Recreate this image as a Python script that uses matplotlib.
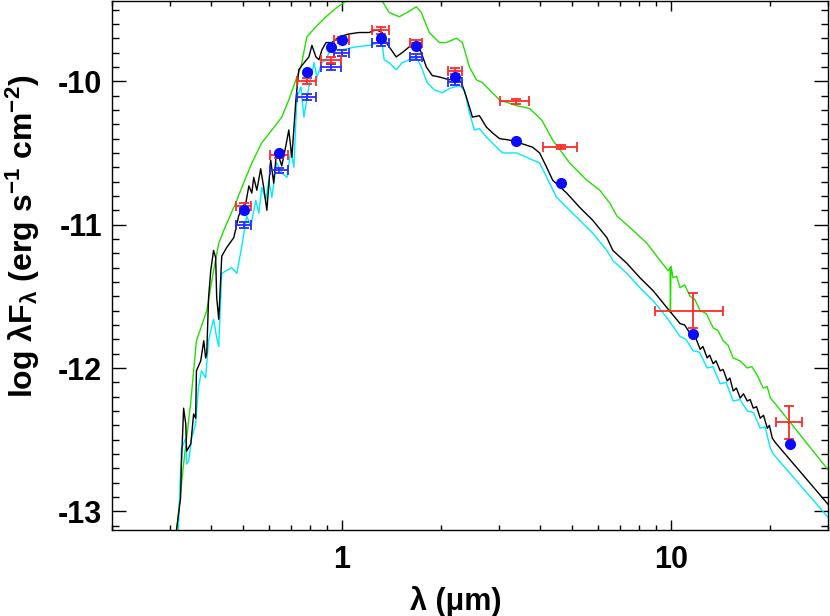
import numpy as np
import matplotlib
matplotlib.use('Agg')
import matplotlib.pyplot as plt
from matplotlib.ticker import FixedLocator, NullFormatter, FixedFormatter, MultipleLocator

plt.rcParams['font.family'] = ['Liberation Sans', 'DejaVu Sans']
plt.rcParams['font.weight'] = 'bold'
plt.rcParams['mathtext.fontset'] = 'custom'
plt.rcParams['mathtext.rm'] = 'Liberation Sans:bold'
plt.rcParams['mathtext.bf'] = 'Liberation Sans:bold'
plt.rcParams['mathtext.it'] = 'Liberation Sans:bold'
plt.rcParams['mathtext.default'] = 'bf'

# model spectra (wavelength in micron, log lambda F_lambda)
green_model = [
    (0.305, -13.40), (0.314, -13.14), (0.330, -12.67), (0.3465, -12.25), (0.361, -11.81),
    (0.388, -11.60), (0.407, -11.32), (0.422, -11.13), (0.437, -11.04), (0.475, -10.85),
    (0.496, -10.74), (0.532, -10.57), (0.570, -10.43), (0.612, -10.34), (0.656, -10.25),
    (0.689, -10.13), (0.724, -9.99), (0.750, -9.90), (0.782, -9.69), (0.833, -9.62),
    (0.894, -9.55), (0.959, -9.49), (1.014, -9.45), (1.09, -9.38), (1.20, -9.36),
    (1.29, -9.42), (1.324, -9.44), (1.391, -9.52), (1.492, -9.55), (1.578, -9.52),
    (1.681, -9.48), (1.741, -9.52), (1.842, -9.66), (1.976, -9.73), (2.075, -9.73),
    (2.227, -9.70), (2.322, -9.73), (2.439, -9.90), (2.562, -9.99), (2.672, -10.01),
    (2.807, -10.06), (3.011, -10.13), (3.393, -10.17), (3.717, -10.19), (4.044, -10.27),
    (4.368, -10.41), (4.921, -10.57), (5.546, -10.69), (6.074, -10.76), (6.516, -10.85),
    (6.846, -10.94), (7.499, -11.02), (8.450, -11.13), (9.258, -11.25), (9.792, -11.32),
    (9.93, -11.30), (9.96, -11.615), (10.0, -11.29), (10.14, -11.37), (10.4, -11.36),
    (10.65, -11.44), (11.0, -11.42), (11.43, -11.50), (11.8, -11.52), (12.26, -11.60),
    (12.8, -11.62), (13.43, -11.72), (13.9, -11.74), (14.40, -11.81), (14.9, -11.84),
    (15.45, -11.93), (16.2, -11.95), (17.05, -12.00), (17.6, -11.99), (18.29, -12.05),
    (18.7, -12.10), (19.08, -12.14), (19.6, -12.13), (20.04, -12.21), (20.75, -12.25),
    (30.5, -12.73),
]

black_model = [
    (0.310, -13.40), (0.314, -13.13), (0.323, -12.91), (0.325, -12.67), (0.330, -12.28),
    (0.335, -12.39), (0.337, -12.58), (0.347, -12.53), (0.354, -12.32), (0.359, -12.35),
    (0.361, -12.02), (0.372, -11.95), (0.380, -11.81), (0.385, -11.93), (0.388, -11.90),
    (0.393, -11.51), (0.399, -11.32), (0.407, -11.18), (0.413, -11.23), (0.416, -11.51),
    (0.422, -11.66), (0.431, -11.22), (0.446, -11.16), (0.469, -11.09), (0.485, -10.94),
    (0.496, -10.89), (0.510, -10.85), (0.521, -10.73), (0.532, -10.78), (0.539, -10.67),
    (0.551, -10.76), (0.566, -10.61), (0.578, -10.74), (0.591, -10.90), (0.607, -10.55),
    (0.620, -10.71), (0.633, -10.48), (0.656, -10.59), (0.675, -10.45), (0.689, -10.34),
    (0.704, -10.53), (0.724, -10.13), (0.739, -9.92), (0.755, -9.89), (0.793, -9.83),
    (0.810, -9.75), (0.833, -9.83), (0.851, -9.85), (0.869, -9.78), (0.894, -9.73),
    (0.932, -9.73), (0.979, -9.69), (1.050, -9.67), (1.127, -9.66), (1.209, -9.66),
    (1.270, -9.64), (1.324, -9.66), (1.362, -9.73), (1.411, -9.78), (1.461, -9.83),
    (1.524, -9.80), (1.601, -9.76), (1.681, -9.73), (1.741, -9.80), (1.804, -9.90),
    (1.881, -9.96), (1.976, -9.97), (2.120, -9.99), (2.227, -9.97), (2.306, -10.01),
    (2.388, -10.11), (2.491, -10.25), (2.616, -10.24), (2.748, -10.32), (2.867, -10.36),
    (3.011, -10.40), (3.229, -10.41), (3.464, -10.43), (3.796, -10.46), (3.987, -10.50),
    (4.188, -10.60), (4.368, -10.69), (4.819, -10.78), (5.280, -10.88), (5.783, -10.97),
    (6.380, -11.09), (6.655, -11.18), (7.341, -11.27), (8.043, -11.37), (8.815, -11.46),
    (9.723, -11.58), (10.65, -11.69), (11.0, -11.70), (11.43, -11.76), (11.8, -11.77),
    (12.26, -11.87), (12.5, -11.85), (12.88, -11.93), (13.1, -11.91), (13.43, -11.97),
    (13.7, -11.95), (14.11, -12.02), (14.4, -12.01), (14.82, -12.09), (15.1, -12.07),
    (15.45, -12.16), (15.8, -12.14), (16.23, -12.21), (16.6, -12.18), (17.05, -12.23),
    (17.4, -12.22), (17.78, -12.28), (18.2, -12.27), (18.67, -12.35), (19.1, -12.33),
    (19.62, -12.42), (19.9, -12.40), (20.32, -12.49), (20.75, -12.52), (30.5, -12.97),
]

cyan_model = [
    (0.316, -13.40), (0.318, -13.14), (0.325, -12.56), (0.335, -12.49), (0.337, -12.67),
    (0.342, -12.65), (0.349, -12.49), (0.359, -12.39), (0.366, -12.14), (0.374, -12.02),
    (0.385, -12.07), (0.393, -11.81), (0.399, -11.74), (0.407, -11.66), (0.416, -11.79),
    (0.422, -11.85), (0.431, -11.34), (0.446, -11.32), (0.462, -11.30), (0.479, -11.34),
    (0.496, -11.15), (0.513, -10.94), (0.528, -11.01), (0.547, -10.83), (0.559, -10.92),
    (0.570, -10.74), (0.587, -10.83), (0.599, -10.69), (0.612, -10.81), (0.633, -10.57),
    (0.656, -10.64), (0.680, -10.67), (0.699, -10.48), (0.714, -10.60), (0.729, -10.11),
    (0.750, -10.04), (0.766, -10.25), (0.793, -10.04), (0.822, -9.87), (0.839, -9.97),
    (0.869, -9.87), (0.894, -9.85), (0.913, -9.80), (0.959, -9.78), (1.0, -9.78),
    (1.103, -9.76), (1.209, -9.75), (1.297, -9.73), (1.324, -9.73), (1.343, -9.85),
    (1.391, -9.87), (1.461, -9.92), (1.524, -9.87), (1.601, -9.85), (1.681, -9.83),
    (1.741, -9.90), (1.816, -10.01), (1.908, -10.06), (2.018, -10.08), (2.120, -10.05),
    (2.274, -10.03), (2.355, -10.06), (2.439, -10.22), (2.526, -10.34), (2.616, -10.33),
    (2.748, -10.39), (2.948, -10.46), (3.075, -10.50), (3.393, -10.50), (3.717, -10.54),
    (3.987, -10.57), (4.188, -10.67), (4.493, -10.81), (4.819, -10.88), (5.280, -10.97),
    (5.783, -11.06), (6.380, -11.18), (6.655, -11.25), (7.341, -11.34), (8.043, -11.44),
    (8.815, -11.53), (9.723, -11.65), (10.65, -11.78), (11.1, -11.80), (11.67, -11.88),
    (12.2, -11.89), (12.88, -12.00), (13.4, -11.99), (14.11, -12.11), (14.7, -12.10),
    (15.45, -12.23), (16.2, -12.22), (17.05, -12.30), (17.8, -12.31), (18.67, -12.42),
    (19.3, -12.41), (20.04, -12.56), (20.46, -12.60), (30.5, -13.06),
]

# photometry
wave = [0.502, 0.643, 0.782, 0.926, 1.0, 1.315, 1.681, 2.21, 3.37, 4.62, 11.67, 22.9]
wave_err = [0.027, 0.04, 0.052, 0.065, 0.052, 0.078, 0.07, 0.11, 0.34, 0.55, 2.75, 2.1]
obs_flux = [-10.867, -10.517, -10.0, -9.853, -9.713, -9.643, -9.734, -9.930,
            -10.14, -10.46, -11.60, -12.38]
obs_err = [0.02, 0.02, 0.02, 0.02, 0.02, 0.025, 0.02, 0.02, 0.017, 0.015, 0.12, 0.115]
dered_flux = [-11.0, -10.622, -10.112, -9.902, -9.804, -9.734, -9.832, -10.007]
dered_err = [0.02, 0.02, 0.02, 0.02, 0.02, 0.02, 0.02, 0.02]
synth_wave = [0.502, 0.643, 0.782, 0.926, 1.0, 1.315, 1.681, 2.21, 3.37, 4.62, 11.67, 23.0]
synth_flux = [-10.895, -10.497, -9.937, -9.762, -9.713, -9.699, -9.755, -9.972,
              -10.42, -10.71, -11.76, -12.53]

fig = plt.figure(figsize=(8.3, 6.16), dpi=100)
ax = fig.add_axes([0.135, 0.1396, 0.8626, 0.8588])

g = np.array(green_model)
b = np.array(black_model)
c = np.array(cyan_model)
ax.plot(g[:, 0], g[:, 1], color='#22e000', lw=1.0)
ax.plot(c[:, 0], c[:, 1], color='#00eaff', lw=1.0)
ax.plot(b[:, 0], b[:, 1], color='black', lw=1.0)

nb = len(dered_flux)
ax.errorbar(wave[:nb], dered_flux, xerr=wave_err[:nb], yerr=dered_err, fmt='none',
            ecolor='#2a2aff', elinewidth=1.3, capsize=3.5, capthick=1.3)
ax.errorbar(wave, obs_flux, xerr=wave_err, yerr=obs_err, fmt='none',
            ecolor='#ff2a2a', elinewidth=1.3, capsize=3.5, capthick=1.3)
ax.plot(synth_wave, synth_flux, 'o', color='#0a0aff', ms=8, mec='none')

ax.set_xscale('log')
ax.set_xlim(0.2, 30)
ax.set_ylim(-13.13, -9.44)

ax.xaxis.set_major_locator(FixedLocator([1, 10]))
ax.xaxis.set_major_formatter(FixedFormatter(['1', '10']))
ax.xaxis.set_minor_locator(FixedLocator([0.2, 0.3, 0.4, 0.5, 0.6, 0.7, 0.8, 0.9,
                                         2, 3, 4, 5, 6, 7, 8, 9, 20, 30]))
ax.xaxis.set_minor_formatter(NullFormatter())
ax.yaxis.set_major_locator(FixedLocator([-13, -12, -11, -10]))
ax.yaxis.set_major_formatter(FixedFormatter(['-13', '-12', '-11', '-10']))
ax.yaxis.set_minor_locator(MultipleLocator(0.1))

ax.tick_params(which='both', direction='in', top=True, right=True, width=1.0,
               labelsize=22)
ax.tick_params(axis='x', which='major', length=7, pad=11)
ax.tick_params(axis='x', which='minor', length=3.5)
ax.tick_params(axis='y', which='major', length=10, pad=7)
ax.tick_params(axis='y', which='minor', length=5)
for lab in ax.get_xticklabels() + ax.get_yticklabels():
    lab.set_fontweight('bold')
for sp in ax.spines.values():
    sp.set_linewidth(1.0)

ax.set_xlabel('λ (μm)', fontsize=22, fontweight='bold')
ax.set_ylabel(r'log λF$_\lambda$ (erg s$^{\mathrm{-1}}$ cm$^{\mathrm{-2}}$)',
              fontsize=23, fontweight='bold')
ax.xaxis.set_label_coords(0.48, -0.105)
ax.yaxis.set_label_coords(-0.098, 0.555)

fig.savefig('out.png', dpi=100)
